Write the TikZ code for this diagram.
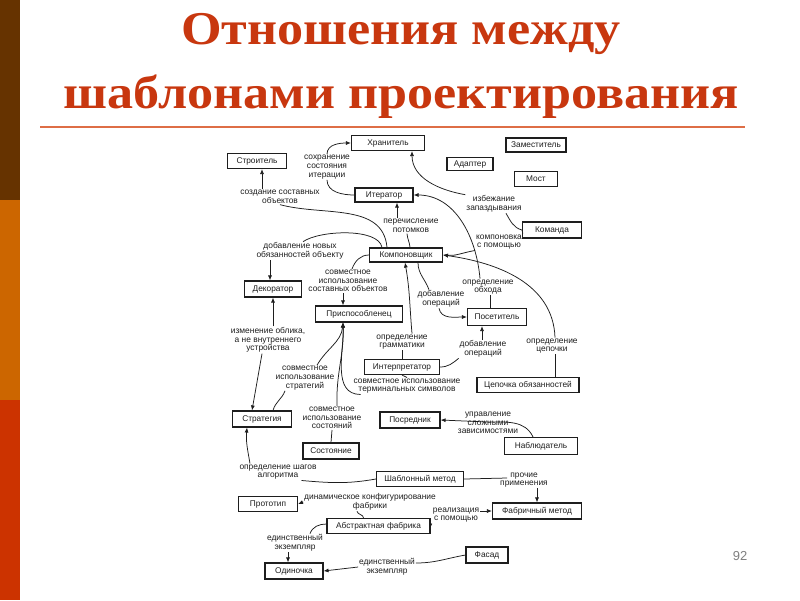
\documentclass[tikz,border=0pt]{standalone}
\usepackage{fontspec}
\setmainfont{Liberation Sans}
\newfontfamily\tfont[FakeStretch=1.11]{Liberation Serif}
\usetikzlibrary{arrows.meta}
\definecolor{barA}{RGB}{102,51,0}
\definecolor{barB}{RGB}{204,102,0}
\definecolor{barC}{RGB}{204,51,0}
\definecolor{ttl}{RGB}{200,55,15}
\definecolor{rul}{RGB}{222,110,70}
\definecolor{ink}{RGB}{30,30,30}
\definecolor{pgn}{RGB}{128,128,128}
\begin{document}
\begin{tikzpicture}[x=1pt,y=-1pt,
  box/.style={draw=ink, line width=1.1pt, inner sep=0pt, text=ink, text height=5.8pt, text depth=1.7pt, font=\fontsize{8.3}{9}\selectfont},
  lbl/.style={align=center, inner sep=0.8pt, text=ink, font=\fontsize{8.4}{8.7}\selectfont},
  con/.style={draw=ink, line width=0.75pt},
  arr/.style={-{Latex[length=5pt,width=4pt]}}]
\useasboundingbox (0,0) rectangle (800,600);
\fill[white] (0,0) rectangle (800,600);
\fill[barA] (0,0) rectangle (20,200);
\fill[barB] (0,200) rectangle (20,400);
\fill[barC] (0,400) rectangle (20,600);
% title
\node[anchor=base, inner sep=0pt, text=ttl, font=\tfont\bfseries\fontsize{47}{50}\selectfont] (t1) at (401,44) {Отношения между};
\node[anchor=base, inner sep=0pt, text=ttl, font=\tfont\bfseries\fontsize{47}{50}\selectfont] (t2) at (401,108) {шаблонами проектирования};
\draw[rul, line width=1.2pt] (40,127) -- (745,127);
\node[text=pgn, font=\fontsize{13}{15}\selectfont, inner sep=0pt] (pg) at (740,556) {92};
% boxes
\node[box, minimum width=73pt, minimum height=15pt] (khr) at (388,143) {Хранитель};
\node[box, minimum width=59pt, minimum height=15pt] (stro) at (257,161) {Строитель};
\node[box, minimum width=58pt, minimum height=14pt] (iter) at (384,195) {Итератор};
\node[box, minimum width=46pt, minimum height=13pt] (adap) at (470,164) {Адаптер};
\node[box, minimum width=60pt, minimum height=14pt] (zam) at (536,145) {Заместитель};
\node[box, minimum width=43pt, minimum height=15pt] (most) at (536,179) {Мост};
\node[box, minimum width=59pt, minimum height=16pt] (kom) at (552,230) {Команда};
\node[box, minimum width=73pt, minimum height=14pt] (komp) at (406,255) {Компоновщик};
\node[box, minimum width=57pt, minimum height=16pt] (dek) at (273,289) {Декоратор};
\node[box, minimum width=87pt, minimum height=16pt] (pris) at (359,314) {Приспособленец};
\node[box, minimum width=59pt, minimum height=17pt] (pos) at (497,317) {Посетитель};
\node[box, minimum width=75pt, minimum height=15pt] (int) at (402,367) {Интерпретатор};
\node[box, minimum width=102pt, minimum height=15pt] (cep) at (528,385) {Цепочка обязанностей};
\node[box, minimum width=59pt, minimum height=16pt] (str) at (262,419) {Стратегия};
\node[box, minimum width=60pt, minimum height=16pt] (posr) at (410,420) {Посредник};
\node[box, minimum width=73pt, minimum height=17pt] (nab) at (541,446) {Наблюдатель};
\node[box, minimum width=56pt, minimum height=16pt] (sos) at (331,451) {Состояние};
\node[box, minimum width=87pt, minimum height=15pt] (shab) at (420,479) {Шаблонный метод};
\node[box, minimum width=59pt, minimum height=15pt] (prot) at (268,504) {Прототип};
\node[box, minimum width=103pt, minimum height=15pt] (abs) at (378.5,526) {Абстрактная фабрика};
\node[box, minimum width=89pt, minimum height=16pt] (fab) at (537,511) {Фабричный метод};
\node[box, minimum width=42pt, minimum height=16pt] (fas) at (487,555) {Фасад};
\node[box, minimum width=58pt, minimum height=16pt] (odin) at (294,571) {Одиночка};
% labels
\node[lbl] (L1) at (327,167) {сохранение\\состояния\\итерации};
\node[lbl] (L2) at (280,197) {создание составных\\объектов};
\node[lbl] (L3) at (411,226) {перечисление\\потомков};
\node[lbl] (L4) at (494,204) {избежание\\запаздывания};
\node[lbl] (L5) at (499,242) {компоновка\\с помощью};
\node[lbl] (L6) at (300,251) {добавление новых\\обязанностей объекту};
\node[lbl] (L7) at (348,281) {совместное\\использование\\составных объектов};
\node[lbl] (L8) at (268,340) {изменение облика,\\а не внутреннего\\устройства};
\node[lbl] (L9) at (402,342) {определение\\грамматики};
\node[lbl] (L10) at (441,299) {добавление\\операций};
\node[lbl] (L11) at (488,287) {определение\\обхода};
\node[lbl] (L12) at (483,349) {добавление\\операций};
\node[lbl] (L13) at (552,346) {определение\\цепочки};
\node[lbl] (L14) at (305,378) {совместное\\использование\\стратегий};
\node[lbl] (L15) at (407,386) {совместное использование\\терминальных символов};
\node[lbl] (L16) at (332,418) {совместное\\использование\\состояний};
\node[lbl] (L17) at (488,423) {управление\\сложными\\зависимостями};
\node[lbl] (L18) at (278,472) {определение шагов\\алгоритма};
\node[lbl] (L19) at (524,480) {прочие\\применения};
\node[lbl] (L20) at (370,502) {динамическое конфигурирование\\фабрики};
\node[lbl] (L21) at (456,515) {реализация\\с помощью};
\node[lbl] (L22) at (295,543) {единственный\\экземпляр};
\node[lbl] (L23) at (387,567) {единственный\\экземпляр};
% connectors
\draw[con] (iter.west) to[out=180,in=-90] (L1.south);
\draw[con,arr] (L1.north) to[out=90,in=180] (khr.west);
\draw[con] ([xshift=-19pt]komp.north) to[out=95,in=-15] (L2.south);
\draw[con,arr] ([xshift=-18pt]L2.north) -- ([xshift=5pt]stro.south);
\draw[con] ([xshift=4pt]komp.north) to[out=95,in=-85] ([xshift=-4pt]L3.south);
\draw[con,arr] ([xshift=-14pt]L3.north) -- ([xshift=13pt]iter.south);
\draw[con] ([xshift=-24pt]komp.north) to[out=100,in=35,looseness=0.65] ([xshift=3pt]L6.north);
\draw[con,arr] ([xshift=-30pt]L6.south) -- ([xshift=-3pt]dek.north);
\draw[con] (komp.west) to[out=180,in=70] ([xshift=4pt]L7.north);
\draw[con,arr] ([xshift=-5pt]L7.south) -- ([xshift=-16pt]pris.north);
\draw[con] ([xshift=12pt]komp.south) to[out=-90,in=110] ([xshift=-12pt]L10.north);
\draw[con,arr] ([xshift=-2pt]L10.south) to[out=-80,in=180] (pos.west);
\draw[con] ([xshift=-7pt]pos.north) -- ([xshift=2pt]L11.south);
\draw[con,arr] ([xshift=-8pt]L11.north) to[out=95,in=0] (iter.east);
\draw[con] (kom.west) to[out=165,in=-60] ([xshift=12pt]L4.south);
\draw[con,arr] (L4.north west) to[out=170,in=-90] ([xshift=24pt]khr.south);
\draw[con] (kom.west) -- (L5.north east);
\draw[con,arr] (L5.south west) to[out=190,in=-5] (komp.east);
\draw[con] ([xshift=27pt]cep.north) -- ([xshift=3pt]L13.south);
\draw[con,arr] ([xshift=3pt]L13.north) to[out=92,in=-8] (komp.east);
\draw[con] (int.east) to[out=0,in=220] (L12.south west);
\draw[con,arr] ([xshift=-1pt]L12.north) -- ([xshift=-15pt]pos.south);
\draw[con] (L9.south) -- (int.north);
\draw[con,arr] ([xshift=10pt]L9.north) to[out=95,in=-80] ([xshift=-1pt]komp.south);
\draw[con,arr] ([xshift=12pt]L14.north) to[out=60,in=-95] ([xshift=-16pt]pris.south);
\draw[con] ([xshift=-20pt]L14.south) to[out=-110,in=75] ([xshift=11pt]str.north);
\draw[con,arr] ([xshift=5pt]L16.north) to[out=92,in=-88] ([xshift=-16pt]pris.south);
\draw[con] (L16.south) -- (sos.north);
\draw[con,arr] ([xshift=8pt]L15.south west) to[out=180,in=-88] ([xshift=-16pt]pris.south);
\draw[con] (L15.north) -- (int.south);
\draw[con,arr] ([xshift=5pt]L8.north) -- (dek.south);
\draw[con,arr] ([xshift=-6pt]L8.south) -- ([xshift=-10pt]str.north);
\draw[con] (shab.west) to[out=190,in=-5] ([xshift=-16pt]L18.south east);
\draw[con,arr] ([xshift=-28pt]L18.north) to[out=100,in=-95] ([xshift=-15pt]str.south);
\draw[con] (shab.east) -- ([xshift=8pt,yshift=2pt]L19.west);
\draw[con,arr] ([xshift=13pt]L19.south) -- (fab.north);
\draw[con] ([xshift=-15pt]abs.north) to[out=90,in=-80] ([xshift=-13pt]L20.south);
\draw[con,arr] (L20.west) -- (prot.east);
\draw[con] (abs.east) -- (L21.south west);
\draw[con,arr] ([yshift=4pt]L21.east) -- (fab.west);
\draw[con] ([yshift=2pt]abs.west) to[out=180,in=70] ([xshift=15pt]L22.north);
\draw[con,arr] ([xshift=-7pt]L22.south) -- ([xshift=-6pt]odin.north);
\draw[con] (fas.west) to[out=190,in=0] ([yshift=4pt]L23.east);
\draw[con,arr] (L23.west) -- (odin.east);
\draw[con,arr] ([xshift=-8pt]nab.north) to[out=115,in=0] ([yshift=1pt]L17.center) -- (posr.east);
\end{tikzpicture}
\end{document}
